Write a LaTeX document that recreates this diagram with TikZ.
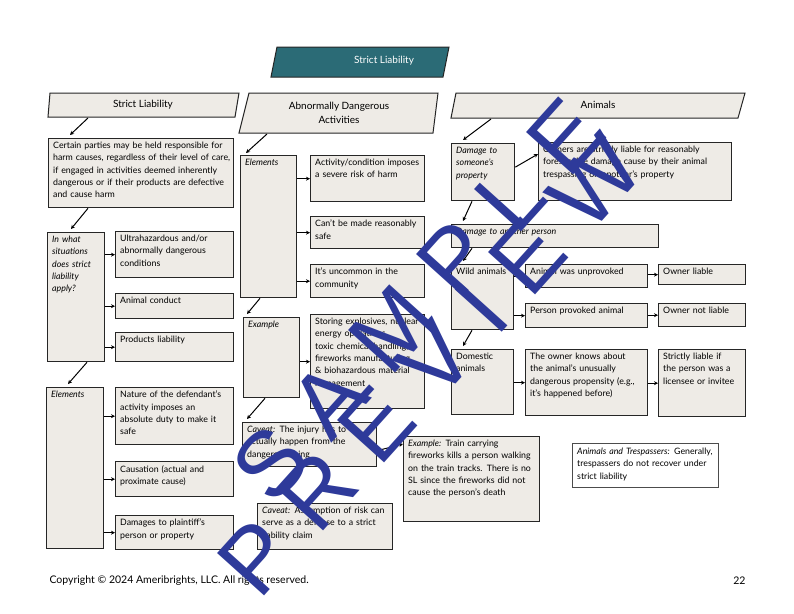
\documentclass[tikz,border=0pt]{standalone}
\usepackage{fontspec}
\setmainfont{Lato}
\newfontfamily\wmfont[LetterSpace=28]{Liberation Sans}
\usetikzlibrary{arrows.meta,calc}
\definecolor{boxfill}{HTML}{EEEBE6}
\definecolor{teal}{HTML}{2B6B76}
\definecolor{wm}{HTML}{2E3A9A}
\tikzset{
  box/.style={draw=black!85,line width=1.3pt,fill=boxfill,inner sep=0pt},
  txt/.style={font=\fontsize{8.8}{12.3}\selectfont,align=left,inner sep=0pt,anchor=north west,
    execute at begin node={\hyphenpenalty=10000 \exhyphenpenalty=10000 }},
  hdr/.style={draw=black!85,line width=1pt,fill=boxfill},
  arr/.style={-{Stealth[length=4pt,width=4pt]},line width=1pt}
}
\newcommand\bx[6]{%
  \node[box,anchor=north west,minimum width={(#4-#2)*1pt},minimum height={(#5-#3)*1pt}] (#1) at (#2,#3) {};
  \node[txt,text width={(#4-#2-8)*1pt}] (#1T) at ([shift={(5,4)}]#1.north west) {#6};}
\begin{document}
\begin{tikzpicture}[x=1pt,y=-1pt]
\useasboundingbox[fill=white] (0,0) rectangle (794,613);
% title
\draw[fill=teal,draw=black!85,line width=1pt] (277,47) -- (449,47) -- (443,77) -- (271,77) -- cycle;
\node[text=white,font=\fontsize{10}{10}\selectfont] (title) at (384,61) {Strict Liability};
% headers
\draw[hdr] (50,93) -- (239,93) -- (235,117) -- (48,117) -- cycle;
\node[font=\fontsize{10}{10}\selectfont] (h1) at (143,105) {Strict Liability};
\draw[hdr] (249,93) -- (438,93) -- (433,133) -- (239,133) -- cycle;
\node[font=\fontsize{10}{14}\selectfont,align=center] (h2) at (339,113) {Abnormally Dangerous\\Activities};
\draw[hdr] (456,93) -- (745,93) -- (738,118) -- (451,118) -- cycle;
\node[font=\fontsize{10}{10}\selectfont] (h3) at (598,105) {Animals};
\coordinate (h1b) at (88,118); \coordinate (h2b) at (267,134); \coordinate (h3b) at (491,119);
% left column
\bx{cp}{48}{138}{233}{207}{Certain parties may be held responsible for harm causes, regardless of their level of care, if engaged in activities deemed inherently dangerous or if their products are defective and cause harm}
\bx{sit}{47}{232}{104}{361}{\itshape In what situations does strict liability apply?}
\bx{ultra}{115}{231}{233}{277}{Ultrahazardous and/or abnormally dangerous conditions}
\bx{anc}{115}{293}{233}{318}{Animal conduct}
\bx{prod}{115}{332}{233}{361}{Products liability}
\bx{el1}{46}{387}{103}{548}{\itshape Elements}
\bx{nat}{115}{387}{233}{444}{Nature of the defendant's activity imposes an absolute duty to make it safe}
\bx{caus}{115}{461}{233}{496}{Causation (actual and proximate cause)}
\bx{dam}{115}{515}{233}{549}{Damages to plaintiff's person or property}
% middle column
\bx{el2}{240}{155}{296}{297}{\itshape Elements}
\bx{act}{310}{155}{424}{201}{Activity/condition imposes a severe risk of harm}
\bx{cant}{310}{216}{424}{248}{Can't be made reasonably safe}
\bx{unc}{310}{264}{424}{297}{It's uncommon in the community}
\bx{ex}{243}{317}{299}{397}{\itshape Example}
\bx{stor}{310}{314}{424}{408}{Storing explosives, nuclear energy operations, toxic chemical handling, fireworks manufacturing, \& biohazardous material management}
\bx{cav1}{242}{422}{376}{466}{\textit{Caveat:} The injury has to actually happen from the dangerous thing}
\bx{train}{403}{436}{539}{521}{\textit{Example:} Train carrying fireworks kills a person walking on the train tracks. There is no SL since the fireworks did not cause the person's death}
\bx{cav2}{257}{503}{392}{549}{\textit{Caveat:} Assumption of risk can serve as a defense to a strict liability claim}
% right column
\bx{prop}{451}{143}{514}{200}{\itshape Damage to someone's property}
\bx{own}{538}{142}{731}{200}{Owners are strictly liable for reasonably foreseeable damage cause by their animal trespassing on another's property}
\bx{pers}{451}{224}{658}{247}{\itshape Damage to another person}
\bx{wild}{451}{264}{513}{329}{Wild animals}
\bx{unp}{525}{264}{647}{287}{Animal was unprovoked}
\bx{ol}{658}{264}{745}{284}{Owner liable}
\bx{prv}{525}{303}{647}{327}{Person provoked animal}
\bx{onl}{658}{303}{745}{326}{Owner not liable}
\bx{dom}{451}{349}{513}{414}{Domestic animals}
\bx{knows}{525}{349}{647}{415}{The owner knows about the animal's unusually dangerous propensity (e.g., it's happened before)}
\bx{strl}{658}{349}{745}{416}{Strictly liable if the person was a licensee or invitee}
\node[draw=black!70,line width=0.5pt,fill=white,anchor=north west,minimum width=146pt,minimum height=44pt] (tres) at (572,443) {};
\node[txt,text width=140pt] (tresT) at ([shift={(5,5)}]tres.north west) {\textit{Animals and Trespassers:} Generally, trespassers do not recover under strict liability};
% arrows
\draw[arr] (h1b) -- ($(cp.north west)+(22,-3)$);
\draw[arr] (h2b) -- ($(el2.north west)+(6,-2)$);
\draw[arr] (h3b) -- ($(prop.north west)+(12,-3)$);
\draw[arr] ($(cp.south west)+(40,0)$) -- ($(sit.north west)+(24,-3)$);
\draw[arr] ($(sit.south west)+(40,0)$) -- ($(el1.north west)+(22,-3)$);
\foreach \a/\b in {sit/ultra,sit/anc,sit/prod,el1/nat,el1/caus,el1/dam,el2/act,el2/cant,el2/unc,ex/stor,wild/unp,wild/prv,dom/knows,unp/ol,prv/onl,knows/strl}
  \draw[arr] (\a.east |- \b.west) -- (\b.west);
\draw[arr] ($(el2.south west)+(20,0)$) -- ($(ex.north west)+(4,-3)$);
\draw[arr] ($(ex.south west)+(22,0)$) -- ($(cav1.north west)+(5,-3)$);
\draw[arr] ($(cav1.east)+(0,6)$) -- ($(train.north west)+(0,8)$);
\draw[arr] ($(prop.east)+(0,-5)$) -- ($(own.north west)+(0,12)$);
\draw[arr] ($(prop.south west)+(21,0)$) -- ($(pers.north west)+(12,-3)$);
\draw[arr] ($(pers.south west)+(21,0)$) -- ($(wild.north west)+(12,-3)$);
\draw[arr] ($(wild.south west)+(21,0)$) -- ($(dom.north west)+(12,-3)$);
% footer
\node[anchor=west,font=\fontsize{10.5}{12}\selectfont] (copy) at (46,581) {Copyright © 2024 Ameribrights, LLC. All rights reserved.};
\node[anchor=east,font=\fontsize{10.5}{12}\selectfont] (pg) at (749,581) {22};
% watermark
\node[text=wm,font=\wmfont\fontsize{92}{92}\selectfont,rotate=48,inner sep=0pt] (wm1) at (418,300) {SAMPLE};
\node[text=wm,font=\wmfont\fontsize{92}{92}\selectfont,rotate=48,inner sep=0pt] (wm2) at (430,365) {PREVIEW};
\end{tikzpicture}
\end{document}
